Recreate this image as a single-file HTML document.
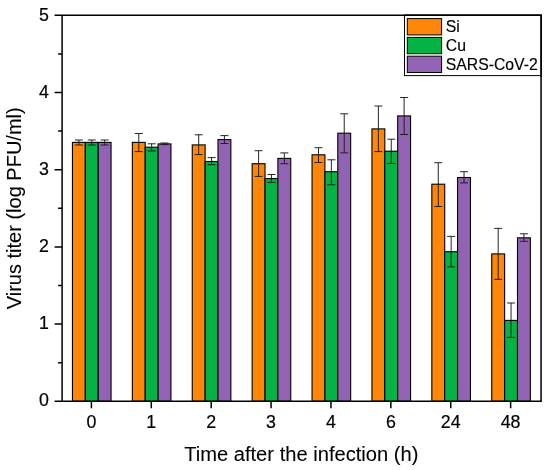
<!DOCTYPE html>
<html><head><meta charset="utf-8"><title>Virus titer</title>
<style>
html,body{margin:0;padding:0;background:#fff;}
svg{display:block;}
text{font-family:"Liberation Sans",sans-serif;fill:#000;}
.t{font-size:17.8px;stroke:#000;stroke-width:0.2px;}
.l{font-size:20px;stroke:#000;stroke-width:0.08px;}
.lx{font-size:20.15px;stroke:#000;stroke-width:0.08px;}
.g{font-size:15.75px;stroke:#000;stroke-width:0.15px;}
</style></head><body>
<svg width="550" height="470" viewBox="0 0 550 470">
<rect x="0" y="0" width="550" height="470" fill="#fff"/>
<rect x="72.44" y="142.40" width="12.87" height="258.90" fill="#FF8608" stroke="#000" stroke-width="1.1"/>
<rect x="85.31" y="142.40" width="12.87" height="258.90" fill="#04B345" stroke="#000" stroke-width="1.1"/>
<rect x="98.18" y="142.40" width="12.87" height="258.90" fill="#9263B5" stroke="#000" stroke-width="1.1"/>
<path d="M78.88 140.00V145.00M74.88 140.00H82.88M74.88 145.00H82.88" stroke="#1a1a1a" stroke-width="0.95" fill="none"/>
<path d="M91.75 140.00V145.00M87.75 140.00H95.75M87.75 145.00H95.75" stroke="#1a1a1a" stroke-width="0.95" fill="none"/>
<path d="M104.62 140.00V145.00M100.62 140.00H108.62M100.62 145.00H108.62" stroke="#1a1a1a" stroke-width="0.95" fill="none"/>
<rect x="132.34" y="142.40" width="12.87" height="258.90" fill="#FF8608" stroke="#000" stroke-width="1.1"/>
<rect x="145.22" y="147.20" width="12.87" height="254.10" fill="#04B345" stroke="#000" stroke-width="1.1"/>
<rect x="158.09" y="143.90" width="12.87" height="257.40" fill="#9263B5" stroke="#000" stroke-width="1.1"/>
<path d="M138.78 133.50V151.60M134.78 133.50H142.78M134.78 151.60H142.78" stroke="#1a1a1a" stroke-width="0.95" fill="none"/>
<path d="M151.65 143.80V150.90M147.65 143.80H155.65M147.65 150.90H155.65" stroke="#1a1a1a" stroke-width="0.95" fill="none"/>
<path d="M164.52 143.00V144.60M160.52 143.00H168.52M160.52 144.60H168.52" stroke="#1a1a1a" stroke-width="0.95" fill="none"/>
<rect x="192.25" y="144.90" width="12.87" height="256.40" fill="#FF8608" stroke="#000" stroke-width="1.1"/>
<rect x="205.12" y="161.50" width="12.87" height="239.80" fill="#04B345" stroke="#000" stroke-width="1.1"/>
<rect x="217.99" y="139.60" width="12.87" height="261.70" fill="#9263B5" stroke="#000" stroke-width="1.1"/>
<path d="M198.68 134.80V154.60M194.68 134.80H202.68M194.68 154.60H202.68" stroke="#1a1a1a" stroke-width="0.95" fill="none"/>
<path d="M211.55 157.60V164.70M207.55 157.60H215.55M207.55 164.70H215.55" stroke="#1a1a1a" stroke-width="0.95" fill="none"/>
<path d="M224.42 135.60V143.50M220.42 135.60H228.42M220.42 143.50H228.42" stroke="#1a1a1a" stroke-width="0.95" fill="none"/>
<rect x="252.14" y="163.70" width="12.87" height="237.60" fill="#FF8608" stroke="#000" stroke-width="1.1"/>
<rect x="265.01" y="178.60" width="12.87" height="222.70" fill="#04B345" stroke="#000" stroke-width="1.1"/>
<rect x="277.88" y="158.40" width="12.87" height="242.90" fill="#9263B5" stroke="#000" stroke-width="1.1"/>
<path d="M258.58 150.70V176.40M254.58 150.70H262.58M254.58 176.40H262.58" stroke="#1a1a1a" stroke-width="0.95" fill="none"/>
<path d="M271.45 174.50V182.40M267.45 174.50H275.45M267.45 182.40H275.45" stroke="#1a1a1a" stroke-width="0.95" fill="none"/>
<path d="M284.32 152.90V163.70M280.32 152.90H288.32M280.32 163.70H288.32" stroke="#1a1a1a" stroke-width="0.95" fill="none"/>
<rect x="312.05" y="154.80" width="12.87" height="246.50" fill="#FF8608" stroke="#000" stroke-width="1.1"/>
<rect x="324.92" y="171.70" width="12.87" height="229.60" fill="#04B345" stroke="#000" stroke-width="1.1"/>
<rect x="337.79" y="133.20" width="12.87" height="268.10" fill="#9263B5" stroke="#000" stroke-width="1.1"/>
<path d="M318.48 147.70V162.50M314.48 147.70H322.48M314.48 162.50H322.48" stroke="#1a1a1a" stroke-width="0.95" fill="none"/>
<path d="M331.35 159.80V184.80M327.35 159.80H335.35M327.35 184.80H335.35" stroke="#1a1a1a" stroke-width="0.95" fill="none"/>
<path d="M344.22 113.80V152.90M340.22 113.80H348.22M340.22 152.90H348.22" stroke="#1a1a1a" stroke-width="0.95" fill="none"/>
<rect x="371.94" y="128.90" width="12.87" height="272.40" fill="#FF8608" stroke="#000" stroke-width="1.1"/>
<rect x="384.81" y="151.20" width="12.87" height="250.10" fill="#04B345" stroke="#000" stroke-width="1.1"/>
<rect x="397.69" y="115.90" width="12.87" height="285.40" fill="#9263B5" stroke="#000" stroke-width="1.1"/>
<path d="M378.38 106.00V151.60M374.38 106.00H382.38M374.38 151.60H382.38" stroke="#1a1a1a" stroke-width="0.95" fill="none"/>
<path d="M391.25 139.20V163.50M387.25 139.20H395.25M387.25 163.50H395.25" stroke="#1a1a1a" stroke-width="0.95" fill="none"/>
<path d="M404.12 97.50V134.50M400.12 97.50H408.12M400.12 134.50H408.12" stroke="#1a1a1a" stroke-width="0.95" fill="none"/>
<rect x="431.84" y="184.20" width="12.87" height="217.10" fill="#FF8608" stroke="#000" stroke-width="1.1"/>
<rect x="444.71" y="251.70" width="12.87" height="149.60" fill="#04B345" stroke="#000" stroke-width="1.1"/>
<rect x="457.58" y="177.50" width="12.87" height="223.80" fill="#9263B5" stroke="#000" stroke-width="1.1"/>
<path d="M438.28 162.70V206.50M434.28 162.70H442.28M434.28 206.50H442.28" stroke="#1a1a1a" stroke-width="0.95" fill="none"/>
<path d="M451.15 236.40V266.90M447.15 236.40H455.15M447.15 266.90H455.15" stroke="#1a1a1a" stroke-width="0.95" fill="none"/>
<path d="M464.02 171.70V182.90M460.02 171.70H468.02M460.02 182.90H468.02" stroke="#1a1a1a" stroke-width="0.95" fill="none"/>
<rect x="491.75" y="253.90" width="12.87" height="147.40" fill="#FF8608" stroke="#000" stroke-width="1.1"/>
<rect x="504.62" y="320.40" width="12.87" height="80.90" fill="#04B345" stroke="#000" stroke-width="1.1"/>
<rect x="517.49" y="237.80" width="12.87" height="163.50" fill="#9263B5" stroke="#000" stroke-width="1.1"/>
<path d="M498.18 228.40V279.30M494.18 228.40H502.18M494.18 279.30H502.18" stroke="#1a1a1a" stroke-width="0.95" fill="none"/>
<path d="M511.05 303.00V337.40M507.05 303.00H515.05M507.05 337.40H515.05" stroke="#1a1a1a" stroke-width="0.95" fill="none"/>
<path d="M523.92 233.80V241.30M519.92 233.80H527.92M519.92 241.30H527.92" stroke="#1a1a1a" stroke-width="0.95" fill="none"/>
<path d="M62.1 15.3V401.3M541.05 15.3V401.3" stroke="#000" stroke-width="1.5" fill="none"/>
<path d="M54.6 15.3H541.8M54.6 401.3H541.8" stroke="#000" stroke-width="1.5" fill="none"/>
<path d="M54.6 324.10H62.1M54.6 246.90H62.1M54.6 169.70H62.1M54.6 92.50H62.1M58.1 362.70H62.1M58.1 285.50H62.1M58.1 208.30H62.1M58.1 131.10H62.1M58.1 53.90H62.1" stroke="#000" stroke-width="1.5" fill="none"/>
<path d="M91.40 401.3V408.3M151.29 401.3V408.3M211.18 401.3V408.3M271.07 401.3V408.3M330.96 401.3V408.3M390.85 401.3V408.3M450.74 401.3V408.3M510.63 401.3V408.3" stroke="#000" stroke-width="1.5" fill="none"/>
<text class="t" x="49" y="406" text-anchor="end">0</text>
<text class="t" x="49" y="329" text-anchor="end">1</text>
<text class="t" x="49" y="252" text-anchor="end">2</text>
<text class="t" x="49" y="175" text-anchor="end">3</text>
<text class="t" x="49" y="98" text-anchor="end">4</text>
<text class="t" x="49" y="21" text-anchor="end">5</text>
<text class="t" x="91.40" y="428.4" text-anchor="middle">0</text>
<text class="t" x="151.29" y="428.4" text-anchor="middle">1</text>
<text class="t" x="211.18" y="428.4" text-anchor="middle">2</text>
<text class="t" x="271.07" y="428.4" text-anchor="middle">3</text>
<text class="t" x="330.96" y="428.4" text-anchor="middle">4</text>
<text class="t" x="390.85" y="428.4" text-anchor="middle">6</text>
<text class="t" x="450.74" y="428.4" text-anchor="middle">24</text>
<text class="t" x="510.63" y="428.4" text-anchor="middle">48</text>
<text class="lx" x="301.3" y="461.4" text-anchor="middle">Time after the infection (h)</text>
<text class="l" transform="translate(20.8,208.3) rotate(-90)" text-anchor="middle">Virus titer (log PFU/ml)</text>
<rect x="404.5" y="15.3" width="136.54999999999995" height="60.3" fill="#fff" stroke="#000" stroke-width="1"/>
<path d="M404 15.3H541.8M541.05 15.3V77" stroke="#000" stroke-width="1.5" fill="none"/>
<rect x="407.3" y="18.60" width="34.3" height="16.3" fill="#FF8608" stroke="#000" stroke-width="1"/>
<text class="g" x="445.8" y="32">Si</text>
<rect x="407.3" y="37.40" width="34.3" height="16.3" fill="#04B345" stroke="#000" stroke-width="1"/>
<text class="g" x="445.8" y="51">Cu</text>
<rect x="407.3" y="56.20" width="34.3" height="16.3" fill="#9263B5" stroke="#000" stroke-width="1"/>
<text class="g" x="445.8" y="70">SARS-CoV-2</text>
</svg></body></html>
